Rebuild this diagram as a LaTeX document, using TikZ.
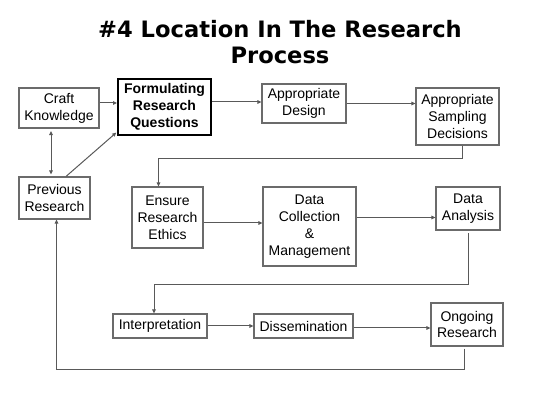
\documentclass[tikz,border=0pt]{standalone}
\usepackage{fontspec}
\setmainfont{Liberation Sans}
\newfontfamily\titlefamily{DejaVu Sans}
\usepackage{tikz}
\usetikzlibrary{arrows.meta,positioning,calc}
\tikzset{
    box color/.style={black!58},
    line color/.style={black!65},
    stepbox/.style={draw,box color,line width=1.1pt,fill=white,text=black,inner sep=0pt,align=center},
    main stepbox/.style={stepbox,draw=black,line width=1.9pt,font=\boxfont\bfseries},
    arr/.style={->,>={Triangle[length=4pt,width=3.6pt]},line color,line width=1pt},
    darr/.style={<->,>={Triangle[length=4pt,width=3.6pt]},line color,line width=1pt},
}
\newcommand{\boxfont}{\fontsize{14}{16.8}\selectfont}
\tikzstyle{every node}=[font=\boxfont]

\begin{document}
\begin{tikzpicture}[x=1pt,y=1pt]
    \useasboundingbox (0,0) rectangle (560,420);
    \node[font=\titlefamily\bfseries\fontsize{22.6}{25.5}\selectfont,align=center,inner sep=0pt] (title) at (280,378) {\#4 Location In The Research\\Process};
    % top row
    \node[stepbox,minimum width=80pt,minimum height=40pt] (craft) at (59,312) {Craft\\Knowledge};
    \node[main stepbox,minimum width=93pt,minimum height=56pt] (formq) at (164.5,313) {Formulating\\Research\\Questions};
    \node[stepbox,minimum width=84pt,minimum height=39pt] (design) at (304,316.5) {Appropriate\\Design};
    \node[stepbox,minimum width=83pt,minimum height=57pt] (sampling) at (457.5,303.5) {Appropriate\\Sampling\\Decisions};
    % middle row
    \node[stepbox,minimum width=71pt,minimum height=42pt] (previous) at (54.5,222) {Previous\\Research};
    \node[stepbox,minimum width=71pt,minimum height=61pt] (ethics) at (167.5,202.5) {Ensure\\Research\\Ethics};
    \node[stepbox,minimum width=93pt,minimum height=79pt] (collection) at (309.5,193.5) {Data\\Collection\\\&\\Management};
    \node[stepbox,minimum width=64pt,minimum height=43pt] (analysis) at (468,211.5) {Data\\Analysis};
    % bottom row
    \node[stepbox,minimum width=94pt,minimum height=24pt] (interp) at (160,94) {Interpretation};
    \node[stepbox,minimum width=99pt,minimum height=24pt] (dissem) at (303.5,94) {Dissemination};
    \node[stepbox,minimum width=72pt,minimum height=43pt] (ongoing) at (467,95.5) {Ongoing\\Research};

    \draw[arr] ([yshift=5pt]craft.east) -- ([yshift=5pt]craft.east -| formq.west);
    \draw[arr] ([yshift=5pt]formq.east) -- ([yshift=5pt]formq.east -| design.west);
    \draw[arr] (design.east) -- (design.east -| sampling.west);
    \draw[arr] ([xshift=4.5pt]sampling.south) -- ++(0,-13) -| ([xshift=-9pt]ethics.north);
    \draw[darr,shorten <=2.5pt,shorten >=2pt] ([xshift=-8pt]craft.south) -- ([xshift=-8pt]craft.south |- previous.north);
    \draw[arr,shorten >=1pt] ([xshift=11.5pt]previous.north) -- ([yshift=4pt]formq.south west);
    \draw[arr] ([yshift=-5.5pt]ethics.east) -- ([yshift=-5.5pt]ethics.east -| collection.west);
    \draw[arr] ([yshift=9pt]collection.east) -- ([yshift=9pt]collection.east -| analysis.west);
    \draw[arr,shorten <=2.5pt] (analysis.south) -- ++(0,-53.5) -| ([xshift=-6pt]interp.north);
    \draw[arr] (interp.east) -- (dissem.west);
    \draw[arr] ([yshift=-2pt]dissem.east) -- ([yshift=-2pt]dissem.east -| ongoing.west);
    \draw[arr,shorten <=2pt] ([xshift=-2.5pt]ongoing.south) -- ++(0,-22.5) -| ([xshift=2pt]previous.south);
\end{tikzpicture}
\end{document}
